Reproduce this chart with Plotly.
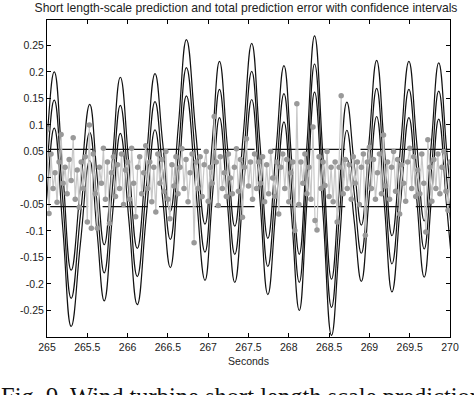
import plotly.graph_objects as go

# ---- data ----
# prediction curve: extrema and crossing samples (seconds, value)
pred_t = [264.88, 264.985, 265.09, 265.195, 265.30, 265.415, 265.53, 265.62, 265.71, 265.81,
          265.91, 266.015, 266.12, 266.23, 266.34, 266.435, 266.53, 266.63, 266.73, 266.845,
          266.96, 267.05, 267.14, 267.235, 267.33, 267.435, 267.54, 267.64, 267.74, 267.84,
          267.94, 268.035, 268.13, 268.225, 268.32, 268.425, 268.53, 268.625, 268.72, 268.81,
          268.90, 268.995, 269.09, 269.185, 269.28, 269.385, 269.49, 269.585, 269.68, 269.77,
          269.86, 269.96, 270.06]
pred_v = [-0.150, -0.002, 0.147, -0.040, -0.227, -0.070, 0.086, -0.047, -0.179, -0.021,
          0.137, -0.025, -0.186, -0.021, 0.144, 0.014, -0.116, 0.046, 0.208, 0.034,
          -0.140, 0.014, 0.167, 0.012, -0.144, 0.029, 0.201, 0.017, -0.167, -0.004,
          0.159, -0.019, -0.197, 0.009, 0.215, -0.015, -0.244, -0.077, 0.090, -0.026,
          -0.142, 0.014, 0.169, 0.004, -0.162, 0.003, 0.167, 0.017, -0.134, 0.015,
          0.164, -0.003, -0.170]
ci_half_width = 0.053

# total prediction error samples (every 0.025 s from 265.0)
err_t0 = 265.0
err_dt = 0.025
err_v = [
    0.092, -0.067, 0.045, -0.020, 0.010, -0.046, 0.030, 0.082,
    -0.010, 0.020, -0.030, 0.035, -0.005, 0.076, -0.040, 0.015,
    -0.055, 0.030, -0.020, 0.040, -0.083, 0.100, -0.095, 0.045,
    -0.030, -0.095, 0.020, -0.010, 0.056, -0.040, 0.030, -0.086,
    0.010, 0.040, -0.035, 0.025, -0.020, 0.045, -0.050, 0.015,
    0.030, -0.040, 0.056, -0.010, -0.073, 0.020, 0.040, -0.030,
    0.010, 0.061, -0.020, 0.030, -0.045, 0.020, -0.064, 0.045,
    -0.010, 0.035, -0.025, 0.050, -0.040, -0.077, 0.025, -0.015,
    0.040, -0.030, 0.020, 0.055, -0.020, 0.035, -0.045, 0.010,
    0.045, -0.122, 0.030, -0.020, 0.040, -0.035, 0.025, 0.050,
    -0.044, 0.020, -0.010, 0.116, 0.030, -0.052, 0.040, -0.020,
    0.010, -0.035, 0.045, 0.000, -0.030, 0.020, 0.055, -0.025,
    0.035, -0.074, 0.020, 0.074, -0.015, 0.030, -0.040, 0.045,
    -0.020, 0.030, -0.010, 0.040, -0.045, 0.025, -0.030, 0.050,
    0.000, -0.035, 0.030, -0.068, 0.020, 0.045, -0.020, 0.035,
    -0.045, 0.010, 0.030, -0.099, 0.140, -0.050, 0.030, -0.010,
    0.045, -0.030, 0.020, -0.040, 0.096, -0.080, -0.098, 0.040,
    -0.020, 0.030, -0.014, 0.050, -0.035, 0.020, -0.045, 0.030,
    -0.083, 0.020, 0.155, -0.030, 0.035, -0.020, 0.025, -0.040,
    0.040, -0.010, 0.030, -0.050, 0.020, 0.045, -0.108, 0.030,
    0.058, -0.020, 0.035, -0.040, 0.010, 0.045, -0.030, 0.081,
    -0.015, 0.030, -0.040, 0.020, 0.050, -0.025, 0.035, -0.068,
    0.025, -0.010, -0.044, 0.030, 0.056, -0.020, 0.040, -0.035,
    0.015, -0.030, 0.045, -0.010, -0.102, 0.072, 0.020, -0.044,
    0.035, -0.020, 0.045, -0.030, 0.020, 0.050, -0.025, -0.061,
    0.030,
]
err_t = [err_t0 + i * err_dt for i in range(len(err_v))]

# confidence limits for the error (drawn as segments)
err_ci = 0.054
upper_seg_start = [265.0, 265.70, 267.06, 267.79, 268.89]
upper_seg_end = [265.575, 266.91, 267.575, 268.70, 270.0]
lower_seg_start = [265.04, 265.69, 266.39, 267.08, 267.79, 268.89, 269.575]
lower_seg_end = [265.51, 266.25, 266.91, 267.575, 268.70, 269.375, 270.0]

x_ticks = [265, 265.5, 266, 266.5, 267, 267.5, 268, 268.5, 269, 269.5, 270]
x_tick_text = ["265", "265.5", "266", "266.5", "267", "267.5", "268", "268.5", "269", "269.5", "270"]
y_ticks = [0.25, 0.2, 0.15, 0.1, 0.05, 0, -0.05, -0.1, -0.15, -0.2, -0.25]
y_tick_text = ["0.25", "0.2", "0.15", "0.1", "0.05", "0", "-0.05", "-0.1", "-0.15", "-0.2", "-0.25"]

title_text = "Short length-scale prediction and total prediction error with confidence intervals"
x_label = "Seconds"
caption_text = "Fig. 9. Wind turbine short length scale prediction"


def segments(starts, ends, level):
    xs, ys = [], []
    for a, b in zip(starts, ends):
        xs += [a, b, None]
        ys += [level, level, None]
    return xs, ys


fig = go.Figure()

curve_style = dict(color="#111111", width=1.2, shape="spline", smoothing=1.3)
fig.add_trace(go.Scatter(x=pred_t, y=[v + ci_half_width for v in pred_v], mode="lines",
                         line=curve_style, hoverinfo="skip"))
fig.add_trace(go.Scatter(x=pred_t, y=pred_v, mode="lines", line=curve_style, hoverinfo="skip"))
fig.add_trace(go.Scatter(x=pred_t, y=[v - ci_half_width for v in pred_v], mode="lines",
                         line=curve_style, hoverinfo="skip"))

ux, uy = segments(upper_seg_start, upper_seg_end, err_ci)
lx, ly = segments(lower_seg_start, lower_seg_end, -err_ci)
fig.add_trace(go.Scatter(x=ux, y=uy, mode="lines", line=dict(color="#111111", width=1.1),
                         connectgaps=False, hoverinfo="skip"))
fig.add_trace(go.Scatter(x=lx, y=ly, mode="lines", line=dict(color="#111111", width=1.1),
                         connectgaps=False, hoverinfo="skip"))

fig.add_trace(go.Scatter(x=err_t, y=err_v, mode="lines+markers",
                         line=dict(color="#c8c8c8", width=1.2),
                         marker=dict(color="#999999", size=5.5), hoverinfo="skip"))

font_family = "Liberation Sans, Arial, sans-serif"
axis_common = dict(showgrid=False, zeroline=False, showline=True, linecolor="black",
                   linewidth=1, mirror="allticks", ticks="inside", ticklen=4,
                   tickcolor="black", automargin=False,
                   tickfont=dict(family=font_family, size=10.5, color="#222222"))

fig.update_layout(
    width=474, height=395,
    margin=dict(l=47, r=24, t=20, b=58, autoexpand=False),
    paper_bgcolor="white", plot_bgcolor="white",
    showlegend=False,
    title=dict(text=title_text, x=0.519, xanchor="center", xref="container",
               y=0.99, yanchor="top", automargin=False,
               font=dict(family=font_family, size=12.1, color="#222222")),
    xaxis=dict(range=[265, 270], tickvals=x_ticks, ticktext=x_tick_text,
               title=dict(text=x_label, standoff=6,
                          font=dict(family=font_family, size=10.5, color="#222222")),
               **axis_common),
    yaxis=dict(range=[-0.3, 0.298], tickvals=y_ticks, ticktext=y_tick_text, **axis_common),
    annotations=[dict(text=caption_text, xref="paper", yref="paper", x=-0.118, y=-0.138,
                      xanchor="left", yanchor="top", showarrow=False,
                      font=dict(family="Liberation Serif, Times New Roman, serif", size=24.5,
                                color="#111111"))],
)

fig.write_html("out.html", config={"displayModeBar": False},
               post_script="document.body.style.margin='0';")
